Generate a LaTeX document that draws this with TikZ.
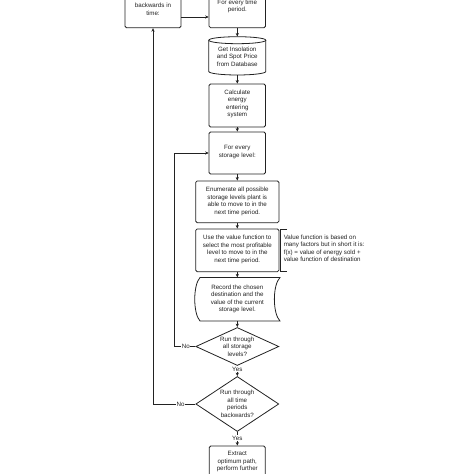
\documentclass[tikz,border=0pt]{standalone}
\usepackage{fontspec}
\setmainfont{Liberation Sans}
\usetikzlibrary{arrows.meta,shapes.geometric}
\definecolor{ln}{HTML}{222222}
\definecolor{tx}{HTML}{222222}
\tikzset{
  flowbox/.style={draw=ln, line width=0.8pt, rounded corners=1.5pt, fill=white, inner sep=0pt},
  txt/.style={text=tx, font=\fontsize{6.2}{7.5}\selectfont, align=center, inner sep=0pt},
  ltxt/.style={text=tx, font=\fontsize{6.2}{7.5}\selectfont, align=left, inner sep=0pt},
  flowarrow/.style={draw=ln, line width=0.8pt, -{Stealth[length=3.5pt,width=3.2pt]}},
  flowline/.style={draw=ln, line width=0.8pt},
  decision/.style={diamond, draw=ln, line width=0.8pt, fill=white, inner sep=0pt, aspect=2.2},
  lbl/.style={text=tx, font=\fontsize{6.2}{7}\selectfont, fill=white, inner sep=0.6pt},
  ghost/.style={inner sep=0pt}
}
\begin{document}
\begin{tikzpicture}[x=1pt,y=-1pt]
\useasboundingbox (0,0) rectangle (474,474);
\clip (0,0) rectangle (474,474);
\fill[white] (0,0) rectangle (474,474);

% left top box
\node[flowbox, minimum width=56pt, minimum height=37pt] (lb) at (153,9.3) {};
\node[txt] (lbt) at (153,9.3) {backwards in\\time:};
% right top box
\node[flowbox, minimum width=56.5pt, minimum height=42.4pt] (tp) at (237.3,6.5) {};
\node[txt] (tpt) at (237.3,6.5) {For every time\\period.};

% database cylinder
\node[ghost, minimum width=57pt, minimum height=38.3pt] (db) at (237.3,55.85) {};
\draw[flowline, fill=white] (208.8,40.2) -- (208.8,71.5) arc[start angle=180, end angle=0, x radius=28.5, y radius=3.5] -- (265.8,40.2);
\draw[flowline, fill=white] (237.3,40.2) ellipse[x radius=28.5, y radius=3.5];
\node[txt] (dbt) at (237.3,56.7) {Get Insolation\\and Spot Price\\from Database};

% calculate
\node[flowbox, minimum width=56.5pt, minimum height=43pt] (calc) at (237.3,105.5) {};
\node[txt] (calct) at (237.3,104) {Calculate\\energy\\entering\\system};

% for every storage level
\node[flowbox, minimum width=56.5pt, minimum height=42pt] (sto) at (237.3,153) {};
\node[txt] (stot) at (237.3,151.8) {For every\\storage level:};

% enumerate
\node[flowbox, minimum width=83.3pt, minimum height=41.7pt] (enum) at (237.3,201.8) {};
\node[txt] (enumt) at (237.3,201.5) {Enumerate all possible\\storage levels plant is\\able to move to in the\\next time period.};

% value function
\node[flowbox, minimum width=83.3pt, minimum height=42.7pt] (vf) at (237.3,250.3) {};
\node[txt] (vft) at (237.3,249.3) {Use the value function to\\select the most profitable\\level to move to in the\\next time period.};

% annotation
\coordinate (an1) at (287,229);
\coordinate (an2) at (280.6,229);
\coordinate (an3) at (280.6,271.7);
\coordinate (an4) at (287,271.7);
\draw[flowline] (an1) -- (an2) -- (an3) -- (an4);
\node[ltxt, anchor=west] (ant) at (283.6,248.5) {Value function is based on\\many factors but in short it is:\\f(x) = value of energy sold +\\value function of destination};

% record (stored data)
\node[ghost, minimum width=80pt, minimum height=43.5pt] (rec) at (237.3,299.3) {};
\draw[flowline, fill=white] (200,277.5) -- (280,277.5) .. controls (272.5,285) and (272.5,313.5) .. (280,321) -- (200,321) .. controls (193,313.5) and (193,285) .. (200,277.5) -- cycle;
\node[txt] (rect) at (237.3,298.8) {Record the chosen\\destination and the\\value of the current\\storage level.};

% decision 1
\node[decision, minimum width=83pt, minimum height=38pt] (d1) at (237.3,346.5) {};
\node[txt] (d1t) at (237.3,346.5) {Run through\\all storage\\levels?};

% decision 2
\node[decision, minimum width=83pt, minimum height=55pt] (d2) at (237.3,404) {};
\node[txt] (d2t) at (237.3,404) {Run through\\all time\\periods\\backwards?};

% extract
\node[flowbox, minimum width=56pt, minimum height=54pt] (ex) at (237.3,473) {};
\node[txt, anchor=north] (ext) at (237.3,451.5) {Extract\\optimum path,\\perform further};

% arrows
\draw[flowarrow] (lb.east |- 0,17) -- (tp.west |- 0,17);
\draw[flowarrow] (tp.south) -- (db.north);
\draw[flowarrow] (db.south) -- (calc.north);
\draw[flowarrow] (calc.south) -- (sto.north);
\draw[flowarrow] (sto.south) -- (enum.north);
\draw[flowarrow] (enum.south) -- (vf.north);
\draw[flowarrow] (vf.south) -- (rec.north);
\draw[flowarrow] (rec.south) -- (d1.north);
\draw[flowarrow] (d1.south) -- node[lbl, pos=0.3] {Yes} (d2.north);
\draw[flowarrow] (d2.south) -- node[lbl, pos=0.45] {Yes} (ex.north);

\coordinate (c1) at (174,346.5);
\coordinate (c2) at (174,153);
\draw[flowarrow] (d1.west) -- node[lbl, pos=0.45] {No} (c1) -- (c2) -- (sto.west);
\coordinate (c3) at (153,404);
\draw[flowarrow] (d2.west) -- node[lbl, pos=0.35] {No} (c3) -- (lb.south);
\end{tikzpicture}
\end{document}
